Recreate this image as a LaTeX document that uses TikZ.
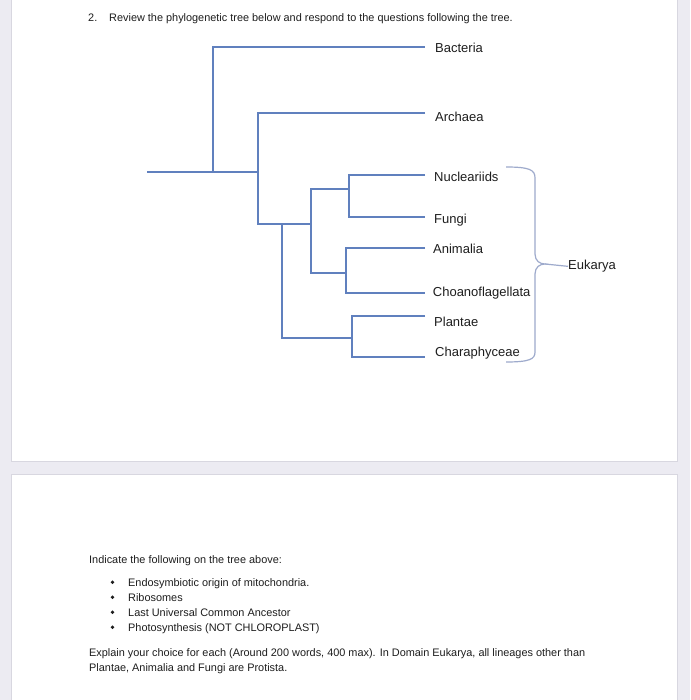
\documentclass[tikz,border=0pt]{standalone}
\usepackage{fontspec}
\setmainfont{Liberation Sans}
\usetikzlibrary{positioning}
\definecolor{pagebg}{RGB}{236,235,242}
\definecolor{panelrim}{RGB}{216,215,224}
\definecolor{treeblue}{RGB}{96,128,190}
\definecolor{bracegrey}{RGB}{158,170,204}
\definecolor{inkdark}{RGB}{30,30,30}

\begin{document}
\begin{tikzpicture}[x=1pt,y=-1pt,
  branch/.style={draw=treeblue,line width=1.7pt},
  taxon/.style={anchor=base west,inner sep=0pt,font=\fontsize{13}{15}\selectfont,text=inkdark},
  para/.style={anchor=base west,inner sep=0pt,font=\fontsize{10.9}{13}\selectfont,text=inkdark},
  blt/.style={circle,fill=inkdark,inner sep=0pt,minimum size=3.8pt},
  panel/.style={draw=panelrim,line width=1pt,fill=white}
]
\useasboundingbox (0,0) rectangle (690,700);
\fill[pagebg] (0,0) rectangle (690,700);
\path[panel] (11,-5) rectangle (677,461);
\path[panel] (11,474) rectangle (677,706);

% question
\node[para] (qnum) at (88,21.9) {2.};
\node[para] (qtext) at (109,21.9) {Review the phylogenetic tree below and respond to the questions following the tree.};

% junctions
\coordinate (root) at (147,172);
\coordinate (nLuca) at (213,172);
\coordinate (nArch) at (258,172);
\coordinate (nEuk) at (282,224);
\coordinate (nOpi) at (311,224);
\coordinate (nNuc) at (349,189);
\coordinate (nAni) at (346,273);
\coordinate (nPla) at (352,338);
% tips
\coordinate (tBac) at (425,47);
\coordinate (tArc) at (425,113);
\coordinate (tNuc) at (425,175);
\coordinate (tFun) at (425,217);
\coordinate (tAni) at (425,248);
\coordinate (tCho) at (425,293);
\coordinate (tPla) at (425,316);
\coordinate (tCha) at (425,357);

\draw[branch] (root) -- (nArch);
\draw[branch] (nLuca) |- (tBac);
\draw[branch] (tArc) -| (nEuk -| nArch) -- (nOpi);
\draw[branch] (nEuk) |- (nPla);
\draw[branch] (tNuc) -| (nNuc) |- (tFun);
\draw[branch] (nNuc) -| (nOpi) |- (nAni);
\draw[branch] (tAni) -| (nAni) |- (tCho);
\draw[branch] (tPla) -| (nPla) |- (tCha);

\node[taxon] (bac) at (435,52.7) {Bacteria};
\node[taxon] (arc) at (435,122) {Archaea};
\node[taxon] (nuc) at (434,181.7) {Nucleariids};
\node[taxon] (fun) at (434,224) {Fungi};
\node[taxon] (ani) at (433,253.7) {Animalia};
\node[taxon] (cho) at (432.7,296.7) {Choanoflagellata};
\node[taxon] (pla) at (434,326.7) {Plantae};
\node[taxon] (cha) at (435,356.3) {Charaphyceae};
\node[taxon] (euk) at (568,269.7) {Eukarya};

% brace round the eukaryotes
\coordinate (braceTip) at (545,264);
\draw[bracegrey,line width=1.2pt] (506,167) .. controls (530,167) and (535,170) .. (535,178)
  -- (535,254) .. controls (535,261) and (540,264) .. (braceTip)
  .. controls (540,264) and (535,267) .. (535,274)
  -- (535,352) .. controls (535,359) and (530,362) .. (506,362);
\draw[bracegrey,line width=1.2pt] (braceTip) -- (euk.west);

% instructions
\node[para] (ask) at (89,563.2) {Indicate the following on the tree above:};
\node[para] (it1) at (128,586.2) {Endosymbiotic origin of mitochondria.};
\node[para] (it2) at (128,601.2) {Ribosomes};
\node[para] (it3) at (128,616.2) {Last Universal Common Ancestor};
\node[para] (it4) at (128,631.2) {Photosynthesis (NOT CHLOROPLAST)};
\node[blt] at (112.5,582.3) {};
\node[blt] at (112.5,597.3) {};
\node[blt] at (112.5,612.3) {};
\node[blt] at (112.5,627.3) {};
\node[para] (why1) at (89,656.6) {Explain your choice for each (Around 200 words, 400 max). In Domain Eukarya, all lineages other than};
\node[para] (why2) at (89,671.2) {Plantae, Animalia and Fungi are Protista.};
\end{tikzpicture}
\end{document}
